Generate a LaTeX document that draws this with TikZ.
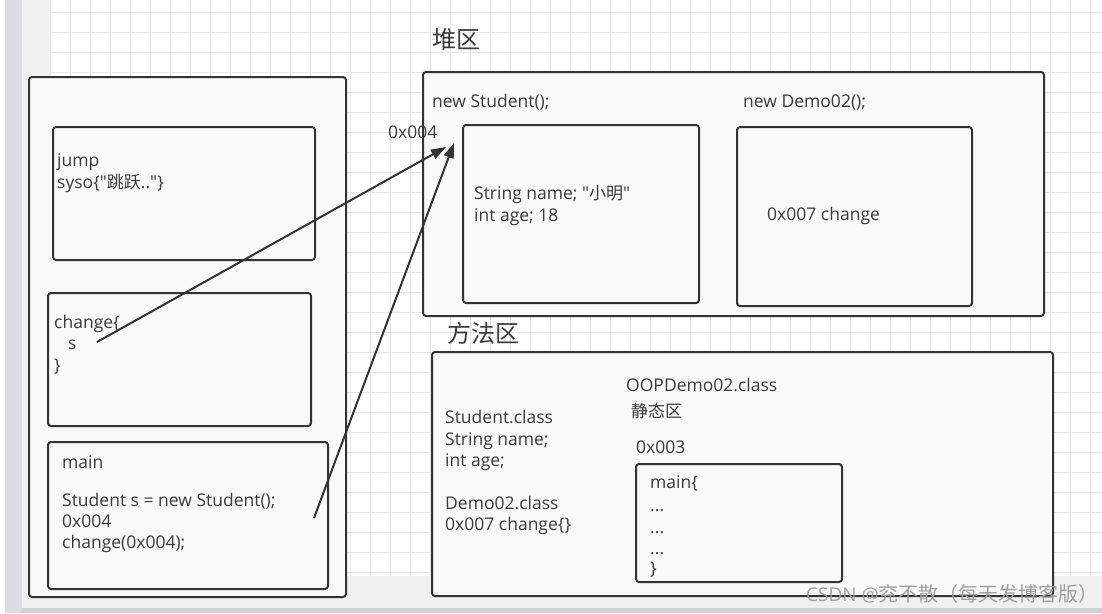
\documentclass[tikz,border=0pt]{standalone}
\usepackage{fontspec}
\setmainfont{Open Sans}[Ligatures=TeXOff]
\newfontfamily\cjk{Noto Sans CJK SC}
\usetikzlibrary{arrows.meta}
\definecolor{ink}{HTML}{333333}
\definecolor{txt}{HTML}{3A3A3A}
\definecolor{gridc}{HTML}{E6E6E6}
\definecolor{boxfill}{HTML}{F9F9F9}
\definecolor{stripc}{HTML}{DCDCE2}
\definecolor{lightbg}{HTML}{F0F0F0}
\definecolor{darkbg}{HTML}{D0D0D0}
\newcommand{\zh}[1]{{\cjk\fontsize{17}{18}\selectfont #1}}
\newcommand{\qq}{\char"0022\relax}
\tikzset{
  x=1pt, y=-1pt,
  box/.style={draw=ink, line width=2pt, rounded corners=3pt, fill=boxfill, anchor=north west, inner sep=0pt, outer sep=0pt},
  lbl/.style={anchor=base west, inner sep=0pt, text=txt, font=\fontsize{17.5}{20}\selectfont},
  title/.style={anchor=base west, inner sep=0pt, text=txt, font=\cjk\fontsize{24}{26}\selectfont},
  conn/.style={draw=ink, line width=2pt, -{Triangle[length=15pt,width=10pt]}},
}
\begin{document}
\begin{tikzpicture}
\useasboundingbox (0,0) rectangle (1102,613);
% background
\fill[white] (0,0) rectangle (1102,613);
\fill[lightbg] (22,0) rectangle (50,613);
\fill[stripc] (5,0) rectangle (22,613);
\fill[lightbg] (22,576) rectangle (1102,608);
\fill[darkbg] (22,608) rectangle (1102,613);
% grid
\foreach \i in {0,...,52} {
  \pgfmathtruncatemacro{\xx}{50+20*\i}
  \draw[gridc, line width=1pt] (\xx,0) -- (\xx,576);
}
\foreach \j in {0,...,28} {
  \pgfmathtruncatemacro{\yy}{12+20*\j}
  \draw[gridc, line width=1pt] (50,\yy) -- (1102,\yy);
}
% stack
\node[box, minimum width=317pt, minimum height=520pt] (stack) at (29,77) {};
\node[box, minimum width=262pt, minimum height=133pt] (jumpbox) at (53,127) {};
\node[box, minimum width=263pt, minimum height=133pt] (changebox) at (48,293) {};
\node[box, minimum width=280pt, minimum height=147pt] (mainbox) at (48,442) {};
\node[lbl] (j1) at (57,166) {jump};
\node[lbl] (j2) at (57,188) {syso\{\qq\zh{跳跃}..\qq\}};
\node[lbl] (c1) at (54,328) {change\{};
\node[lbl] (c2) at (68,349) {s};
\node[lbl] (c3) at (54,371) {\}};
\node[lbl] (m1) at (62,468) {main};
\node[lbl] (m2) at (62,506) {Student s = new Student();};
\node[lbl] (m3) at (62,527) {0x004};
\node[lbl] (m4) at (62,548) {change(0x004);};
% heap
\node[title] (heaptitle) at (432,48) {堆区};
\node[box, minimum width=621pt, minimum height=244pt] (heap) at (423,72) {};
\node[lbl] (ns) at (432,107) {new Student();};
\node[lbl] (nd) at (743,107) {new Demo02();};
\node[lbl] (addr4) at (388,138) {0x004};
\node[box, minimum width=236pt, minimum height=178pt] (student) at (463,125) {};
\node[box, minimum width=235pt, minimum height=179pt] (demo) at (737,127) {};
\node[lbl] (s1) at (474,199) {String name; \qq\zh{小明}\qq};
\node[lbl] (s2) at (474,221) {int age; 18};
\node[lbl] (d1) at (767,220) {0x007 change};
% method area
\node[title] (mtitle) at (447,342) {方法区};
\node[box, minimum width=621pt, minimum height=244pt] (method) at (432,352) {};
\node[lbl] (oop) at (626,391) {OOPDemo02.class};
\node[lbl] (static) at (631,417) {\zh{静态区}};
\node[lbl] (addr3) at (636,453) {0x003};
\node[box, minimum width=206pt, minimum height=118pt] (mainm) at (636,464) {};
\node[lbl] (mm1) at (650,488) {main\{};
\node[lbl] (mm2) at (650,511) {...};
\node[lbl] (mm3) at (650,533) {...};
\node[lbl] (mm4) at (650,554) {...};
\node[lbl] (mm5) at (650,574) {\}};
\node[lbl] (sc1) at (445,423) {Student.class};
\node[lbl] (sc2) at (445,445) {String name;};
\node[lbl] (sc3) at (445,466) {int age;};
\node[lbl] (dc1) at (445,509) {Demo02.class};
\node[lbl] (dc2) at (445,530) {0x007 change\{\}};
% connectors
\coordinate (a1s) at (97,342);
\coordinate (a1e) at (446,147);
\coordinate (a2s) at (314,518);
\coordinate (a2e) at (454,143);
\draw[conn] (a1s) -- (a1e);
\draw[conn] (a2s) -- (a2e);
% watermark
\node[anchor=base west, inner sep=0pt, text=gray!75, font=\fontsize{19}{20}\selectfont] (wm) at (806,601) {CSDN @{\cjk\fontsize{20}{20}\selectfont 兖不散（每天发博客版）}};
\end{tikzpicture}
\end{document}
